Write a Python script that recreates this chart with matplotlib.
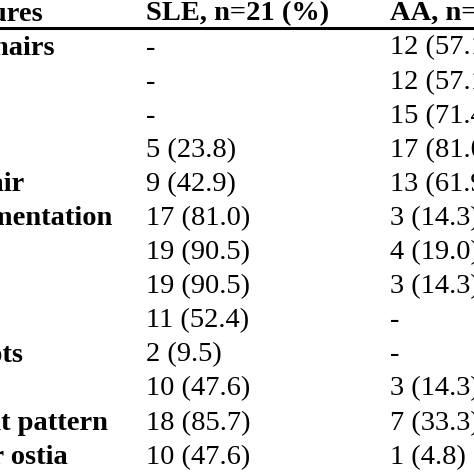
import matplotlib.pyplot as plt

plt.rcParams["font.family"] = "Liberation Serif"

header = ["Features", "SLE, n=21 (%)", "AA, n=21 (%)"]
features = ["Exclamation mark hairs", "", "", "", "Vellus hair", "Perifollicular pigmentation",
            "", "", "", "Blue-gray dots", "", "Honeycomb pigment pattern", "Loss of follicular ostia"]
label_right = [55, 0, 0, 0, 24, 112, 0, 0, 0, 23, 0, 108, 68]
sle = ["-", "-", "-", "5 (23.8)", "9 (42.9)", "17 (81.0)", "19 (90.5)", "19 (90.5)",
       "11 (52.4)", "2 (9.5)", "10 (47.6)", "18 (85.7)", "10 (47.6)"]
aa = ["12 (57.1)", "12 (57.1)", "15 (71.4)", "17 (81.0)", "13 (61.9)", "3 (14.3)", "4 (19.0)",
      "3 (14.3)", "-", "-", "3 (14.3)", "7 (33.3)", "1 (4.8)"]

W = H = 474
fig = plt.figure(figsize=(4.74, 4.74), dpi=100)
ax = fig.add_axes([0, 0, 1, 1])
ax.set_xlim(0, W)
ax.set_ylim(H, 0)
ax.axis("off")

fs = 20.5
y0, dy = 14, 34.1
ax.text(43, y0, header[0], ha="right", va="center", fontsize=fs, fontweight="bold")
ax.text(146, y0, header[1], ha="left", va="center", fontsize=fs, fontweight="bold")
ax.text(390, y0, header[2], ha="left", va="center", fontsize=fs, fontweight="bold")
ax.plot([0, W], [28, 28], color="black", lw=2.2)

for i in range(len(sle)):
    y = y0 + dy * (i + 1)
    if features[i]:
        ax.text(label_right[i], y, features[i], ha="right", va="center", fontsize=fs, fontweight="bold")
    ax.text(146, y, sle[i], ha="left", va="center", fontsize=fs)
    ax.text(390, y, aa[i], ha="left", va="center", fontsize=fs)

fig.savefig("out.png", dpi=100)
